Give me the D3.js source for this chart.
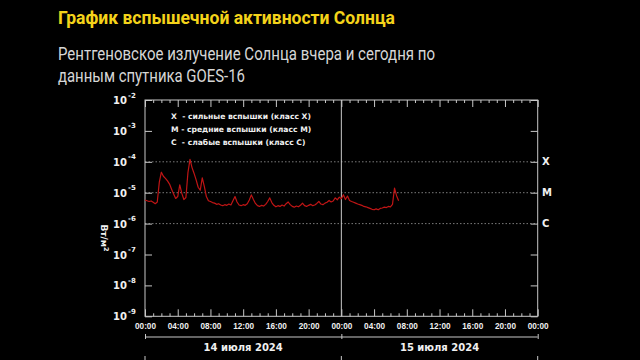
<!DOCTYPE html>
<html>
<head>
<meta charset="utf-8">
<script src="https://cdn.jsdelivr.net/npm/d3@7"></script>
<style>
  html, body { margin: 0; padding: 0; background: #000; }
  svg { display: block; }
</style>
</head>
<body>
<script>
//Hours since 00:00 on 14 July 2024
var hours = [
  0, 0.25, 0.5, 0.75, 1, 1.25, 1.5, 1.75, 2, 2.25, 2.5, 2.75, 3, 3.25, 3.5, 3.75,
  4, 4.25, 4.5, 4.75, 5, 5.25, 5.5, 5.75, 6, 6.25, 6.5, 6.75, 7, 7.25, 7.5, 7.75,
  8, 8.25, 8.5, 8.75, 9, 9.25, 9.5, 9.75, 10, 10.25, 10.5, 10.75, 11, 11.25, 11.5, 11.75,
  12, 12.25, 12.5, 12.75, 13, 13.25, 13.5, 13.75, 14, 14.25, 14.5, 14.75, 15, 15.25, 15.5, 15.75,
  16, 16.25, 16.5, 16.75, 17, 17.25, 17.5, 17.75, 18, 18.25, 18.5, 18.75, 19, 19.25, 19.5, 19.75,
  20, 20.25, 20.5, 20.75, 21, 21.25, 21.5, 21.75, 22, 22.25, 22.5, 22.75, 23, 23.25, 23.5, 23.75,
  24, 24.25, 24.5, 24.75, 25, 25.25, 25.5, 25.75, 26, 26.25, 26.5, 26.75, 27, 27.25, 27.5, 27.75,
  28, 28.25, 28.5, 28.75, 29, 29.25, 29.5, 29.75, 30, 30.25, 30.5, 30.75, 31
];

//X-ray flux, W/m2 (GOES-16, long channel)
var flux = [
  5.8e-6, 5.5e-6, 5.2e-6, 5.4e-6, 4.9e-6, 4.4e-6, 5.0e-6, 2.2e-5, 4.6e-5, 3.4e-5, 2.9e-5, 2.4e-5, 1.9e-5, 1.3e-5, 9.0e-6, 6.5e-6,
  7.5e-6, 1.8e-5, 9.5e-6, 6.0e-6, 7.0e-6, 4.5e-5, 1.2e-4, 6.5e-5, 4.2e-5, 2.6e-5, 1.5e-5, 1.2e-5, 3.0e-5, 1.6e-5, 7.5e-6, 5.5e-6,
  5.2e-6, 4.8e-6, 4.6e-6, 4.2e-6, 4.4e-6, 4.0e-6, 3.8e-6, 4.1e-6, 3.9e-6, 4.3e-6, 4.0e-6, 5.5e-6, 7.5e-6, 5.0e-6, 4.0e-6, 3.8e-6,
  4.1e-6, 3.9e-6, 4.4e-6, 5.8e-6, 8.5e-6, 6.0e-6, 4.5e-6, 3.8e-6, 3.6e-6, 3.9e-6, 3.7e-6, 4.2e-6, 5.2e-6, 6.8e-6, 4.8e-6, 3.9e-6,
  3.5e-6, 3.8e-6, 3.6e-6, 4.0e-6, 3.7e-6, 4.4e-6, 5.0e-6, 4.1e-6, 3.6e-6, 3.4e-6, 3.7e-6, 3.5e-6, 3.9e-6, 4.6e-6, 3.8e-6, 3.6e-6,
  3.9e-6, 4.2e-6, 3.8e-6, 4.0e-6, 4.5e-6, 5.2e-6, 4.3e-6, 4.1e-6, 4.6e-6, 4.9e-6, 5.6e-6, 5.0e-6, 5.4e-6, 6.8e-6, 5.9e-6, 7.2e-6,
  6.4e-6, 8.6e-6, 6.0e-6, 7.8e-6, 5.6e-6, 5.2e-6, 4.9e-6, 4.6e-6, 4.3e-6, 4.1e-6, 3.9e-6, 3.6e-6, 3.5e-6, 3.3e-6, 3.1e-6, 2.9e-6,
  2.8e-6, 3.0e-6, 2.8e-6, 3.1e-6, 3.2e-6, 3.4e-6, 3.3e-6, 3.6e-6, 3.5e-6, 4.2e-6, 1.4e-5, 8.0e-6, 5.5e-6
];

//Axis labels and legend
var decadePowers = [-2, -3, -4, -5, -6, -7, -8, -9];
var hourLabels = ["00:00", "04:00", "08:00", "12:00", "16:00", "20:00",
                  "00:00", "04:00", "08:00", "12:00", "16:00", "20:00", "00:00"];
var dayLabels = ["14 июля 2024", "15 июля 2024"];
var classLabels = ["X", "M", "C"];
var classFlux = [1e-4, 1e-5, 1e-6];
var legendLines = [
  "X  - сильные вспышки (класс X)",
  "M - средние вспышки (класс M)",
  "C  - слабые вспышки (класс C)"
];
var subtitleLines = ["Рентгеновское излучение Солнца вчера и сегодня по", "данным спутника GOES-16"];

var width = 640, height = 360;
var plot = {left: 145, right: 537.7, top: 100, bottom: 316.3};
var axisColor = "#c8c8c8";
var tickFont = "'DejaVu Sans', sans-serif";

const svg = d3.select("body")
    .append("svg")
    .attr("width", width)
    .attr("height", height)
    .style("background", "#000");

//Titles
svg.append("text")
    .attr("x", 58).attr("y", 23.5)
    .attr("fill", "#f4d31a")
    .attr("font-family", "Roboto, sans-serif")
    .attr("font-weight", "bold")
    .attr("font-size", 17.5)
    .attr("textLength", 337)
    .attr("lengthAdjust", "spacingAndGlyphs")
    .text("График вспышечной активности Солнца");

//subtitle font is condensed in the original, so squeeze it a bit
svg.selectAll(".subtitle")
    .data(subtitleLines)
    .join("text")
    .attr("class", "subtitle")
    .attr("x", 58)
    .attr("y", (d, i) => 60 + i * 21.7)
    .attr("fill", "#d6d6d6")
    .attr("font-family", "Roboto, sans-serif")
    .attr("font-size", 17.5)
    .attr("textLength", (d, i) => i === 0 ? 377 : 187)
    .attr("lengthAdjust", "spacingAndGlyphs")
    .text(d => d);

//Scales
const x = d3.scaleLinear()
    .domain([0, 48])
    .range([plot.left, plot.right]);

const y = d3.scaleLog()
    .domain([1e-9, 1e-2])
    .range([plot.bottom, plot.top]);

const chart = svg.append("g");

//Dotted class levels
chart.selectAll(".level")
    .data(classFlux)
    .join("line")
    .attr("class", "level")
    .attr("x1", plot.left).attr("x2", plot.right)
    .attr("y1", d => y(d)).attr("y2", d => y(d))
    .attr("stroke", "#9a9a9a")
    .attr("stroke-width", 0.8)
    .attr("stroke-dasharray", "1.5,2");

//Frame
chart.append("rect")
    .attr("x", plot.left).attr("y", plot.top)
    .attr("width", plot.right - plot.left)
    .attr("height", plot.bottom - plot.top)
    .attr("fill", "none")
    .attr("stroke", axisColor)
    .attr("stroke-width", 1);

//Midnight line between the two days
chart.append("line")
    .attr("x1", x(24)).attr("x2", x(24))
    .attr("y1", plot.top).attr("y2", plot.bottom)
    .attr("stroke", axisColor)
    .attr("stroke-width", 1);

//Hourly ticks on top and bottom edges, longer every 4 hours
const hourTicks = d3.range(0, 49);
const bottomTicks = chart.append("g")
    .attr("transform", `translate(0,${plot.bottom})`)
    .call(d3.axisTop(x).tickValues(hourTicks).tickSize(3).tickFormat(""));
const topTicks = chart.append("g")
    .attr("transform", `translate(0,${plot.top})`)
    .call(d3.axisBottom(x).tickValues(hourTicks).tickSize(3).tickFormat(""));
[bottomTicks, topTicks].forEach(g => {
    g.select(".domain").remove();
    g.selectAll(".tick line")
        .attr("stroke", axisColor)
        .attr("y2", function(d) {
            const s = d % 4 === 0 ? 7 : 3;
            return g === bottomTicks ? -s : s;
        });
});

//Decade ticks on left and right edges
const leftTicks = chart.append("g")
    .attr("transform", `translate(${plot.left},0)`)
    .call(d3.axisRight(y).tickValues(decadePowers.map(p => Math.pow(10, p))).tickSize(7).tickFormat(""));
const rightTicks = chart.append("g")
    .attr("transform", `translate(${plot.right},0)`)
    .call(d3.axisLeft(y).tickValues(decadePowers.map(p => Math.pow(10, p))).tickSize(7).tickFormat(""));
[leftTicks, rightTicks].forEach(g => {
    g.select(".domain").remove();
    g.selectAll(".tick line").attr("stroke", axisColor);
});

//Y tick labels 10^n
svg.selectAll(".ylab")
    .data(decadePowers)
    .join("text")
    .attr("class", "ylab")
    .attr("x", 127)
    .attr("y", d => y(Math.pow(10, d)) + 4)
    .attr("text-anchor", "end")
    .attr("fill", "#f0f0f0")
    .attr("font-family", tickFont)
    .attr("font-weight", "bold")
    .attr("font-size", 10)
    .text("10");
svg.selectAll(".yexp")
    .data(decadePowers)
    .join("text")
    .attr("class", "yexp")
    .attr("x", 128)
    .attr("y", d => y(Math.pow(10, d)) - 2.5)
    .attr("fill", "#f0f0f0")
    .attr("font-family", tickFont)
    .attr("font-weight", "bold")
    .attr("font-size", 7)
    .text(d => d);

//Y axis title
const yTitle = svg.append("text")
    .attr("transform", "translate(101,238) rotate(90)")
    .attr("text-anchor", "middle")
    .attr("fill", "#f0f0f0")
    .attr("font-family", tickFont)
    .attr("font-weight", "bold")
    .attr("font-size", 9);
yTitle.append("tspan").text("Вт/м");
yTitle.append("tspan").attr("dy", -3).attr("font-size", 6.5).text("2");

//Hour labels under the plot
const hourAxis = svg.append("g")
    .attr("transform", `translate(0,${plot.bottom})`)
    .call(d3.axisBottom(x).tickValues(d3.range(0, 49, 4)).tickSize(0)
        .tickFormat((d, i) => hourLabels[i]));
hourAxis.select(".domain").remove();
hourAxis.selectAll("text")
    .attr("dy", 0).attr("y", 13)
    .attr("fill", "#f0f0f0")
    .attr("font-family", "'Liberation Sans', sans-serif")
    .attr("font-weight", "bold")
    .attr("font-size", 8.2);

//Day brackets
const dayAxis = svg.append("g")
    .attr("transform", "translate(0,337)")
    .call(d3.axisTop(x).tickValues([0, 24, 48]).tickSize(3).tickFormat(""));
dayAxis.select(".domain").attr("d", `M${x(0)},0H${x(48)}`).attr("stroke", axisColor);
dayAxis.selectAll(".tick line").attr("stroke", axisColor).attr("y1", 2);
svg.selectAll(".dayTick")
    .data([0, 24, 48])
    .join("line")
    .attr("class", "dayTick")
    .attr("x1", d => x(d)).attr("x2", d => x(d))
    .attr("y1", 356).attr("y2", 361)
    .attr("stroke", axisColor);
svg.selectAll(".dayLabel")
    .data(dayLabels)
    .join("text")
    .attr("class", "dayLabel")
    .attr("x", (d, i) => x(i * 24 + 12))
    .attr("y", 351)
    .attr("text-anchor", "middle")
    .attr("fill", "#f0f0f0")
    .attr("font-family", tickFont)
    .attr("font-weight", "bold")
    .attr("font-size", 10)
    .text(d => d);

//Class letters on the right
svg.selectAll(".classLab")
    .data(classLabels)
    .join("text")
    .attr("class", "classLab")
    .attr("x", 542)
    .attr("y", (d, i) => y(classFlux[i]) + 3.5)
    .attr("fill", "#f0f0f0")
    .attr("font-family", tickFont)
    .attr("font-weight", "bold")
    .attr("font-size", 10)
    .text(d => d);

//Legend
svg.selectAll(".legend")
    .data(legendLines)
    .join("text")
    .attr("class", "legend")
    .attr("x", 171)
    .attr("y", (d, i) => 118.5 + i * 13.2)
    .attr("fill", "#f0f0f0")
    .attr("font-family", tickFont)
    .attr("font-weight", "bold")
    .attr("font-size", 7.6)
    .attr("xml:space", "preserve")
    .style("white-space", "pre")
    .text(d => d);

//Flux line
const line = d3.line()
    .x((d, i) => x(hours[i]))
    .y(d => y(d));

chart.append("path")
    .datum(flux)
    .attr("fill", "none")
    .attr("stroke", "#c01515")
    .attr("stroke-width", 1.2)
    .attr("stroke-linejoin", "round")
    .attr("d", line);
</script>
</body>
</html>
